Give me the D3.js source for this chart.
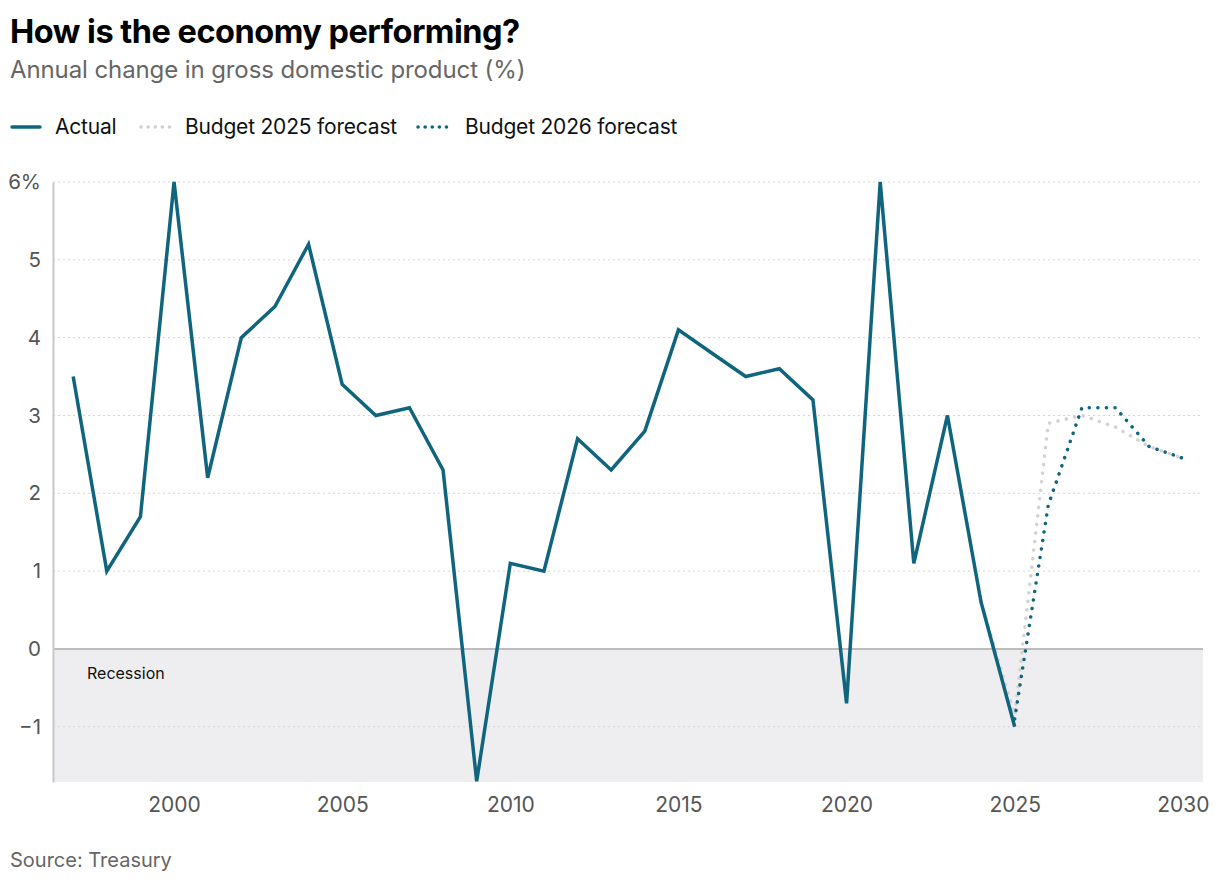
<!DOCTYPE html>
<html>
<head>
<meta charset="utf-8">
<script src="https://cdn.jsdelivr.net/npm/d3@7"></script>
<style>
  body { margin: 0; background: #fff; }
  svg text { font-family: Inter, "Noto Sans", sans-serif; }
</style>
</head>
<body>
<div id="chart"></div>
<script>
// data
const years = [1997,1998,1999,2000,2001,2002,2003,2004,2005,2006,2007,2008,2009,2010,
  2011,2012,2013,2014,2015,2016,2017,2018,2019,2020,2021,2022,2023,2024,2025];
const actual = [3.5,1.0,1.7,6.0,2.2,4.0,4.4,5.2,3.4,3.0,3.1,2.3,-1.7,1.1,
  1.0,2.7,2.3,2.8,4.1,3.8,3.5,3.6,3.2,-0.7,6.0,1.1,3.0,0.6,-1.0];

const fcYears = [2024,2025,2026,2027,2028,2029,2030];
const budget2025 = [0.6,-0.85,2.9,3.0,2.85,2.6,2.45];
const fc26Years = [2025,2026,2027,2028,2029,2030];
const budget2026 = [-0.9,1.85,3.1,3.1,2.6,2.45];

const yTicks = [-1,0,1,2,3,4,5,6];
const xTicks = [2000,2005,2010,2015,2020,2025,2030];

const W = 1220, H = 888;
const margin = {top: 182, right: 17, bottom: 106, left: 53};
const blue = "#10657e";

const svg = d3.select("#chart").append("svg")
  .attr("width", W).attr("height", H);

const x = d3.scaleLinear().domain([1996.4, 2030.6]).range([margin.left, W - margin.right]);
const y = d3.scaleLinear().domain([-1.71, 6]).range([H - margin.bottom, margin.top]);

// titles
svg.append("text").attr("x", 10).attr("y", 43)
  .style("font-size", "32.5px").style("font-weight", 700).style("letter-spacing", "-0.5px")
  .attr("fill", "#000").text("How is the economy performing?");
svg.append("text").attr("x", 10).attr("y", 78)
  .style("font-size", "24px").attr("fill", "#666").style("letter-spacing", "-0.1px")
  .text("Annual change in gross domestic product (%)");

// legend
const legend = [
  {label: "Actual", x: 12, w: 28, color: blue, dash: null, tx: 55},
  {label: "Budget 2025 forecast", x: 141, w: 31, color: "#cfcfcf", dash: "0.1,7", tx: 185},
  {label: "Budget 2026 forecast", x: 418, w: 34, color: blue, dash: "0.1,7", tx: 465}
];
legend.forEach(d => {
  svg.append("line").attr("x1", d.x).attr("x2", d.x + d.w).attr("y1", 127).attr("y2", 127)
    .attr("stroke", d.color).attr("stroke-width", 3.5)
    .attr("stroke-linecap", "round")
    .attr("stroke-dasharray", d.dash);
  svg.append("text").attr("x", d.tx).attr("y", 134)
    .style("font-size", "21px").attr("fill", "#111").style("letter-spacing", "-0.2px")
    .text(d.label);
});

// recession shading
svg.append("rect")
  .attr("x", x.range()[0]).attr("width", x.range()[1] - x.range()[0])
  .attr("y", y(0)).attr("height", y(-1.71) - y(0))
  .attr("fill", "#eeeef0");
svg.append("text").attr("x", 87).attr("y", y(0) + 30)
  .style("font-size", "16px").attr("fill", "#111").text("Recession");

// grid
svg.append("g").selectAll("line").data(yTicks.filter(d => d !== 0)).join("line")
  .attr("x1", x.range()[0]).attr("x2", x.range()[1])
  .attr("y1", d => y(d)).attr("y2", d => y(d))
  .attr("stroke", "#d4d4d4").attr("stroke-width", 1).attr("stroke-dasharray", "2,3");
svg.append("line")
  .attr("x1", x.range()[0]).attr("x2", x.range()[1])
  .attr("y1", y(0)).attr("y2", y(0))
  .attr("stroke", "#bdbdbd").attr("stroke-width", 2);

// y axis
const yAxis = svg.append("g").attr("transform", `translate(${margin.left},0)`)
  .call(d3.axisLeft(y).tickValues(yTicks).tickSize(0).tickPadding(12)
    .tickFormat(d => d === 6 ? "6%" : (d < 0 ? "\u2212" + Math.abs(d) : d)));
yAxis.select(".domain").attr("stroke", "#c8c8c8").attr("stroke-width", 2);
yAxis.selectAll("text").style("font-size", "20.5px").attr("fill", "#555");

// x axis
const xAxis = svg.append("g").attr("transform", `translate(0,${H - margin.bottom})`)
  .call(d3.axisBottom(x).tickValues(xTicks).tickSize(0).tickPadding(15).tickFormat(d3.format("d")));
xAxis.select(".domain").remove();
xAxis.selectAll("text").style("font-size", "21px").attr("fill", "#555");

// lines
const line = d3.line().x(d => x(d[0])).y(d => y(d[1]));

svg.append("path").datum(d3.zip(fcYears, budget2025))
  .attr("d", line).attr("fill", "none")
  .attr("stroke", "#d2d2d2").attr("stroke-width", 3.5)
  .attr("stroke-linecap", "round").attr("stroke-dasharray", "0.1,8.5");

svg.append("path").datum(d3.zip(fc26Years, budget2026))
  .attr("d", line).attr("fill", "none")
  .attr("stroke", blue).attr("stroke-width", 3.5)
  .attr("stroke-linecap", "round").attr("stroke-dasharray", "0.1,8.5");

svg.append("path").datum(d3.zip(years, actual))
  .attr("d", line).attr("fill", "none")
  .attr("stroke", blue).attr("stroke-width", 3.5)
  .attr("stroke-linejoin", "miter");

// source
svg.append("text").attr("x", 10).attr("y", 867)
  .style("font-size", "20px").attr("fill", "#666")
  .text("Source: Treasury");
</script>
</body>
</html>
